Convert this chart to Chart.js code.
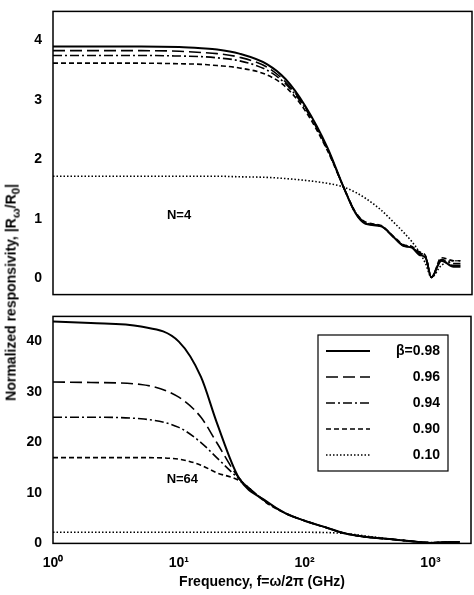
<!DOCTYPE html><html><head><meta charset="utf-8">
<script src="https://cdn.jsdelivr.net/npm/chart.js@4"></script>
<style>body{margin:0;background:#fff;width:474px;height:595px;position:relative;overflow:hidden;font-family:"Liberation Sans",Arial,sans-serif}
#c1{position:absolute;left:0;top:0}#c2{position:absolute;left:0;top:305px}
#yt{position:absolute;left:-168px;top:283px;width:360px;text-align:center;transform:rotate(-90deg);font-weight:bold;font-size:14px}</style></head><body>
<canvas id="c1" width="474" height="306"></canvas><canvas id="c2" width="474" height="290"></canvas>
<div id="yt">Normalized responsivity, |R<sub>ω</sub>/R<sub>0</sub>|</div>
<script>
const freqs=[1,2,5,10,15,20,30,50,70,100,150,200,250,300,400,500,600,700,800,900,1000,1200,1500,1700];
const betaLabels=['β=0.98','0.96','0.94','0.90','0.10'];
const topN4={
'0.98':[3.9,3.9,3.9,3.89,3.87,3.85,3.78,3.6,3.35,2.9,2.2,1.55,1.1,0.92,0.88,0.7,0.55,0.52,0.4,0.35,0.02,0.3,0.2,0.2],
'0.96':[3.83,3.83,3.83,3.82,3.8,3.78,3.72,3.55,3.3,2.88,2.18,1.55,1.1,0.93,0.88,0.7,0.55,0.52,0.42,0.36,0.02,0.3,0.22,0.22],
'0.94':[3.75,3.75,3.75,3.74,3.73,3.71,3.66,3.5,3.27,2.86,2.17,1.55,1.11,0.94,0.88,0.7,0.56,0.53,0.43,0.37,0.02,0.32,0.25,0.25],
'0.90':[3.62,3.62,3.62,3.61,3.6,3.58,3.54,3.42,3.22,2.82,2.15,1.55,1.12,0.95,0.89,0.71,0.57,0.54,0.45,0.38,0.02,0.35,0.3,0.3],
'0.10':[1.72,1.72,1.72,1.72,1.72,1.72,1.71,1.7,1.68,1.65,1.6,1.54,1.45,1.35,1.15,0.95,0.78,0.62,0.45,0.25,0.02,0.22,0.3,0.3]};
const botN64={
'0.98':[44,43.7,43,40,33,24,13,8.3,6,4.5,3.1,2.1,1.6,1.3,1,0.8,0.6,0.45,0.3,0.2,0.1,0.2,0.3,0.3],
'0.96':[32,31.9,31.5,29,25,20,13,8.2,6,4.5,3.1,2.1,1.6,1.3,1,0.8,0.6,0.45,0.3,0.2,0.1,0.2,0.3,0.3],
'0.94':[25,25,24.7,23,20,17,12.8,8.1,6,4.5,3.1,2.1,1.6,1.3,1,0.8,0.6,0.45,0.3,0.2,0.1,0.2,0.3,0.3],
'0.90':[17,17,17,16.7,15.5,14,12.5,8,6,4.5,3.1,2.1,1.6,1.3,1,0.8,0.6,0.45,0.3,0.2,0.1,0.2,0.3,0.3],
'0.10':[2.2,2.2,2.2,2.2,2.2,2.2,2.2,2.2,2.2,2.2,2.15,2,1.75,1.5,1.1,0.8,0.6,0.45,0.3,0.2,0.15,0.2,0.3,0.3]};
const dashes=[[],[12,5],[9,3,2,3],[5,3],[1.5,2]];
const keys=['0.98','0.96','0.94','0.90','0.10'];
const sup={0:'⁰',1:'¹',2:'²',3:'³'};
function ds(tbl){return keys.map((k,i)=>({label:betaLabels[i],data:freqs.map((f,j)=>({x:f,y:tbl[k][j]})),borderColor:'#000',borderWidth:i==0?2:1.6,borderDash:dashes[i],pointRadius:0,cubicInterpolationMode:'monotone',fill:false}));}
const frame={id:'frame',afterDraw(c){const a=c.chartArea,x=c.ctx;x.save();x.strokeStyle='#000';x.lineWidth=1.5;x.strokeRect(a.left,a.top,a.right-a.left,a.bottom-a.top);
x.font='bold 13px "Liberation Sans"';x.fillStyle='#000';x.fillText(c.options.plugins.note.text,c.scales.x.getPixelForValue(c.options.plugins.note.f),c.scales.y.getPixelForValue(c.options.plugins.note.v));
if(c.options.plugins.note.legend){const L=318,T=335-305;x.lineWidth=1.2;x.strokeRect(L,T,130,136);x.font='bold 14px "Liberation Sans"';
betaLabels.forEach((b,i)=>{const yy=T+16+i*26;x.setLineDash(dashes[i]);x.lineWidth=i==0?2:1.6;x.beginPath();x.moveTo(L+8,yy);x.lineTo(L+52,yy);x.stroke();x.setLineDash([]);x.textAlign='right';x.textBaseline='middle';x.fillText(b,L+122,yy);});}
x.restore();}};
function opts(ymin,ymax,step,showX,note){return{responsive:false,animation:false,layout:{padding:{left:0,right:2,top:showX?0:5,bottom:0}},
plugins:{legend:{display:false},tooltip:{enabled:false},note},
scales:{x:{type:'logarithmic',min:1,max:2100,border:{display:false},grid:{display:false,drawTicks:true},
ticks:{display:showX,autoSkip:false,maxRotation:0,color:'#000',font:{size:14,weight:'bold'},callback:v=>{const l=Math.log10(v);return Math.abs(l-Math.round(l))<1e-9?'10'+sup[Math.round(l)]:'';}},
title:{display:showX,text:'Frequency, f=ω/2π (GHz)',color:'#000',font:{size:14,weight:'bold'},padding:{top:0}}},
y:{min:ymin,max:ymax,border:{display:false},grid:{display:false},afterFit:s=>{s.width=53;},
ticks:{stepSize:step,color:'#000',font:{size:14,weight:'bold'},callback:v=>(Number.isInteger(v)&&v<ymax)?v:''}}}};}
new Chart(document.getElementById('c1'),{type:'line',data:{datasets:ds(topN4)},options:opts(-0.27,4.49,1,false,{text:'N=4',f:8,v:1}),plugins:[frame]});
new Chart(document.getElementById('c2'),{type:'line',data:{datasets:ds(botN64)},options:opts(0,45,10,true,{text:'N=64',f:8,v:12,legend:true}),plugins:[frame]});
</script></body></html>
